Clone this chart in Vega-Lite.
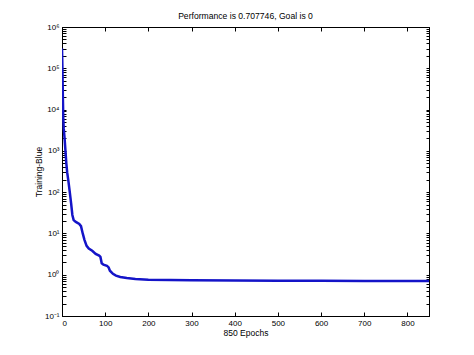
{
  "$schema": "https://vega.github.io/schema/vega-lite/v6.json",
  "width": 367,
  "height": 289,
  "autosize": {"type": "none"},
  "padding": {"left": 62, "top": 27, "right": 45, "bottom": 39},
  "background": "white",
  "config": {
    "font": "Liberation Sans",
    "view": {"stroke": "black", "strokeWidth": 1},
    "axis": {
      "domainColor": "black",
      "tickColor": "black",
      "labelColor": "black",
      "titleColor": "black",
      "labelFontSize": 8,
      "titleFontSize": 8.5,
      "titleFontWeight": "normal",
      "grid": false,
      "tickSize": -4,
      "labelOverlap": false
    }
  },
  "title": {
    "text": "Performance is 0.707746, Goal is 0",
    "fontSize": 8.6,
    "fontWeight": "normal",
    "color": "black",
    "offset": 2
  },
  "data": {
    "values": [
      {"epoch": 0, "perf": 300000},
      {"epoch": 1, "perf": 100000},
      {"epoch": 2, "perf": 20000},
      {"epoch": 3, "perf": 6000},
      {"epoch": 4, "perf": 3500},
      {"epoch": 6, "perf": 2000},
      {"epoch": 8, "perf": 1000},
      {"epoch": 10, "perf": 500},
      {"epoch": 12, "perf": 300},
      {"epoch": 15, "perf": 180},
      {"epoch": 18, "perf": 100},
      {"epoch": 21, "perf": 55},
      {"epoch": 24, "perf": 28},
      {"epoch": 27, "perf": 21},
      {"epoch": 32, "perf": 19},
      {"epoch": 40, "perf": 17},
      {"epoch": 44, "perf": 15},
      {"epoch": 48, "perf": 10},
      {"epoch": 52, "perf": 7},
      {"epoch": 57, "perf": 5},
      {"epoch": 62, "perf": 4.3},
      {"epoch": 70, "perf": 3.8},
      {"epoch": 78, "perf": 3.2},
      {"epoch": 86, "perf": 2.9},
      {"epoch": 89, "perf": 2.7},
      {"epoch": 92, "perf": 1.9},
      {"epoch": 96, "perf": 1.75},
      {"epoch": 104, "perf": 1.65},
      {"epoch": 108, "perf": 1.5},
      {"epoch": 111, "perf": 1.25},
      {"epoch": 118, "perf": 1.05},
      {"epoch": 125, "perf": 0.95},
      {"epoch": 135, "perf": 0.88},
      {"epoch": 150, "perf": 0.83},
      {"epoch": 170, "perf": 0.79},
      {"epoch": 200, "perf": 0.76},
      {"epoch": 250, "perf": 0.74},
      {"epoch": 300, "perf": 0.73},
      {"epoch": 400, "perf": 0.72},
      {"epoch": 500, "perf": 0.713},
      {"epoch": 600, "perf": 0.71},
      {"epoch": 700, "perf": 0.709},
      {"epoch": 850, "perf": 0.708}
    ]
  },
  "layer": [
    {
      "mark": {"type": "line", "color": "#1414c8", "strokeWidth": 2.5, "clip": true},
      "encoding": {
        "x": {
          "field": "epoch", "type": "quantitative",
          "scale": {"domain": [0, 850], "nice": false},
          "axis": {"orient": "bottom", "values": [0, 100, 200, 300, 400, 500, 600, 700, 800], "labelPadding": 7, "title": "850 Epochs", "titlePadding": 1}
        },
        "y": {
          "field": "perf", "type": "quantitative",
          "scale": {"type": "log", "domain": [0.1, 1000000], "nice": false},
          "axis": {
            "orient": "left",
            "values": [0.1,0.2,0.3,0.4,0.5,0.6,0.7,0.8,0.9,1,2,3,4,5,6,7,8,9,10,20,30,40,50,60,70,80,90,100,200,300,400,500,600,700,800,900,1000,2000,3000,4000,5000,6000,7000,8000,9000,10000,20000,30000,40000,50000,60000,70000,80000,90000,100000,200000,300000,400000,500000,600000,700000,800000,900000,1000000],
            "labelExpr": "abs(log(datum.value)/LN10 - round(log(datum.value)/LN10)) > 0.01 ? '' : (datum.value < 0.5 ? '10⁻¹' : '10' + substring('⁰¹²³⁴⁵⁶', round(log(datum.value)/LN10), round(log(datum.value)/LN10) + 1))",
            "labelPadding": 7,
            "title": "Training-Blue",
            "titlePadding": 1
          }
        }
      }
    },
    {
      "mark": {"type": "line", "opacity": 0},
      "encoding": {
        "x": {
          "field": "epoch", "type": "quantitative",
          "axis": {"orient": "top", "values": [100, 200, 300, 400, 500, 600, 700, 800], "labels": false, "title": null}
        },
        "y": {
          "field": "perf", "type": "quantitative",
          "axis": {
            "orient": "right",
            "values": [0.1,0.2,0.3,0.4,0.5,0.6,0.7,0.8,0.9,1,2,3,4,5,6,7,8,9,10,20,30,40,50,60,70,80,90,100,200,300,400,500,600,700,800,900,1000,2000,3000,4000,5000,6000,7000,8000,9000,10000,20000,30000,40000,50000,60000,70000,80000,90000,100000,200000,300000,400000,500000,600000,700000,800000,900000,1000000],
            "labels": false, "title": null, "tickSize": -3
          }
        }
      }
    }
  ],
  "resolve": {"axis": {"x": "independent", "y": "independent"}}
}
